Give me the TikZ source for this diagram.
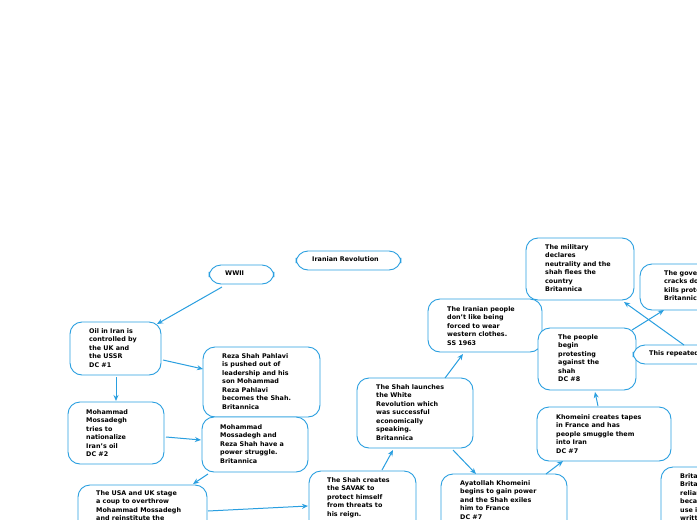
\documentclass[tikz,border=0pt]{standalone}
\usepackage{fontspec}
\setmainfont{DejaVu Sans}
\usetikzlibrary{arrows.meta}
\definecolor{bl}{HTML}{2A9FE0}
\tikzset{
 bx/.style={draw=bl,line width=0.9pt,rounded corners=12pt,fill=white},
 tx/.style={anchor=north west,align=left,font=\bfseries\fontsize{6.4}{8.5}\selectfont,inner sep=0pt},
 ar/.style={draw=bl,line width=1pt,-{Stealth[length=6pt,width=5pt]}}
}
\newcommand{\mybox}[6]{% name, x1,y1,x2,y2
 \draw[bx] (#2,#3) rectangle (#4,#5);
 \coordinate (#1) at ({(#2+#4)/2},{(#3+#5)/2});}
\begin{document}
\begin{tikzpicture}[x=1pt,y=-1pt]
\useasboundingbox (0,0) rectangle (697,520);
\clip (0,0) rectangle (697,520);
\fill[white] (0,0) rectangle (697,520);
\mybox{ir}{296}{251}{401}{270}{}
\node[tx] (irt) at (312,256) {Iranian Revolution};
\mybox{ww}{209}{265}{274}{284}{}
\node[tx] (wwt) at (225,271) {WWII};
\mybox{oil}{70}{322}{161}{375}{}
\node[tx] (oilt) at (89,328) {Oil in Iran is\\controlled by\\the UK and\\the USSR\\DC \#1};
\mybox{rz}{203}{347}{320}{417}{}
\node[tx] (rzt) at (222,353) {Reza Shah Pahlavi\\is pushed out of\\leadership and his\\son Mohammad\\Reza Pahlavi\\becomes the Shah.\\Britannica};
\mybox{ms}{68}{402}{164}{464}{}
\node[tx] (mst) at (86,409) {Mohammad\\Mossadegh\\tries to\\nationalize\\Iran's oil\\DC \#2};
\mybox{mr}{202}{417}{308}{472}{}
\node[tx] (mrt) at (220,424) {Mohammad\\Mossadegh and\\Reza Shah have a\\power struggle.\\Britannica};
\mybox{us}{78}{485}{207}{540}{}
\node[tx] (ust) at (96,490) {The USA and UK stage\\a coup to overthrow\\Mohammad Mossadegh\\and reinstitute the\\Shah};
\mybox{sv}{309}{471}{416}{540}{}
\node[tx] (svt) at (327,477) {The Shah creates\\the SAVAK to\\protect himself\\from threats to\\his reign.};
\mybox{wr}{357}{378}{473}{448}{}
\node[tx] (wrt) at (376,384) {The Shah launches\\the White\\Revolution which\\was successful\\economically\\speaking.\\Britannica};
\mybox{ip}{428}{299}{542}{352}{}
\node[tx] (ipt) at (447,306) {The Iranian people\\don't like being\\forced to wear\\western clothes.\\SS 1963};
\mybox{ay}{441}{474}{567}{540}{}
\node[tx] (ayt) at (460,480) {Ayatollah Khomeini\\begins to gain power\\and the Shah exiles\\him to France\\DC \#7};
\mybox{kt}{537}{407}{671}{461}{}
\node[tx] (ktt) at (556,414) {Khomeini creates tapes\\in France and has\\people smuggle them\\into Iran\\DC \#7};
\mybox{pp}{538}{328}{636}{390}{}
\node[tx] (ppt) at (558,334) {The people\\begin\\protesting\\against the\\shah\\DC \#8};
\mybox{mi}{526}{238}{634}{300}{}
\node[tx] (mit) at (545,244) {The military\\declares\\neutrality and the\\shah flees the\\country\\Britannica};
\mybox{gv}{640}{264}{740}{310}{}
\node[tx] (gvt) at (664,270) {The government\\cracks down and\\kills protesters\\Britannica};
\mybox{tr}{633}{345}{760}{364}{}
\node[tx] (trt) at (649,350) {This repeated};
\mybox{br}{661}{467}{760}{540}{}
\node[tx] (brt) at (680,473) {Britain\\Britain's\\reliance\\because\\use it\\written};
\draw[ar] (222,287) -- (157,324);
\draw[ar] (163,360) -- (203,369);
\draw[ar] (116,377) -- (116,401);
\draw[ar] (166,437) -- (201,440);
\draw[ar] (208,474) -- (193,484);
\draw[ar] (208,511) -- (308,506);
\draw[ar] (382,470) -- (393,450);
\draw[ar] (445,378) -- (463,354);
\draw[ar] (453,450) -- (476,474);
\draw[ar] (546,474) -- (563,461);
\draw[ar] (598,406) -- (595,392);
\draw[ar] (632,330) -- (664,310);
\draw[ar] (684,345) -- (624,302);
\end{tikzpicture}
\end{document}
